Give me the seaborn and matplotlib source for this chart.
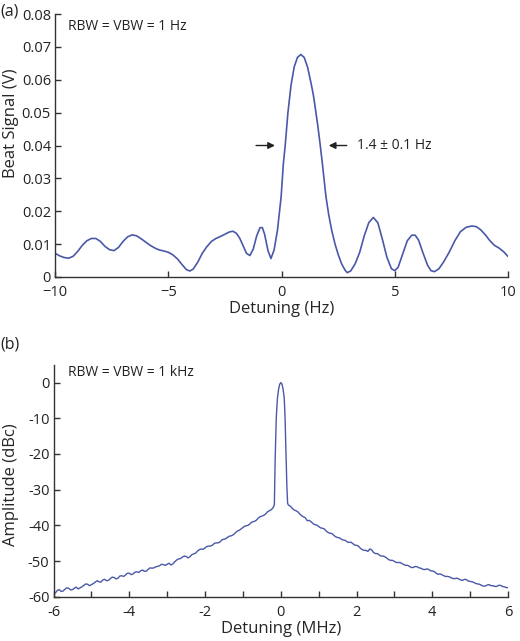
import numpy as np
import pandas as pd
import matplotlib
matplotlib.use("Agg")
import matplotlib.pyplot as plt
import seaborn as sns

# ==========================================
# DATA
# ==========================================

# (a) beat note, detuning in Hz, signal in V
beat_hz = [
    -10.0, -9.8, -9.6, -9.4, -9.2, -9.0, -8.8, -8.6, -8.4, -8.2,
    -8.0, -7.8, -7.6, -7.4, -7.2, -7.0, -6.8, -6.6, -6.4, -6.2,
    -6.0, -5.8, -5.6, -5.4, -5.2, -5.0, -4.8, -4.6, -4.4, -4.2,
    -4.05, -3.9, -3.7, -3.5, -3.3, -3.1, -2.9, -2.7, -2.5, -2.3,
    -2.15, -2.0, -1.85, -1.7, -1.55, -1.4, -1.25, -1.1, -0.95, -0.85,
    -0.75, -0.6, -0.47, -0.33, -0.18, -0.02, 0.08, 0.16, 0.28, 0.42,
    0.56, 0.7, 0.85, 1.0, 1.15, 1.3, 1.4, 1.48, 1.6, 1.7,
    1.8, 1.96, 2.08, 2.21, 2.36, 2.51, 2.65, 2.8, 2.9, 3.05,
    3.25, 3.45, 3.65, 3.85, 4.05, 4.25, 4.45, 4.65, 4.85, 5.0,
    5.15, 5.35, 5.55, 5.75, 5.9, 6.05, 6.25, 6.45, 6.6, 6.75,
    6.95, 7.15, 7.4, 7.65, 7.9, 8.15, 8.4, 8.6, 8.8, 9.0,
    9.2, 9.4, 9.6, 9.8, 10.0,
]
beat_v = [
    0.0072, 0.0064, 0.0059, 0.0057, 0.0063, 0.0078, 0.0096, 0.0110, 0.0117, 0.0117,
    0.0108, 0.0093, 0.0083, 0.0080, 0.0090, 0.0108, 0.0122, 0.0128, 0.0125, 0.0116,
    0.0106, 0.0096, 0.0088, 0.0082, 0.0079, 0.0075, 0.0067, 0.0055, 0.0038, 0.0022,
    0.0018, 0.0024, 0.0045, 0.0072, 0.0092, 0.0108, 0.0117, 0.0123, 0.0130, 0.0137,
    0.0139, 0.0133, 0.0118, 0.0095, 0.0072, 0.0065, 0.0085, 0.0125, 0.0150, 0.0150,
    0.0130, 0.0080, 0.0056, 0.0082, 0.0143, 0.0244, 0.0346, 0.0400, 0.0500, 0.0585,
    0.0640, 0.0668, 0.0677, 0.0668, 0.0638, 0.0590, 0.0555, 0.0518, 0.0460, 0.0405,
    0.0346, 0.0244, 0.0190, 0.0143, 0.0100, 0.0066, 0.0040, 0.0021, 0.0013, 0.0018,
    0.0040, 0.0075, 0.0125, 0.0165, 0.0181, 0.0165, 0.0115, 0.0060, 0.0025, 0.0019,
    0.0030, 0.0070, 0.0110, 0.0127, 0.0127, 0.0112, 0.0072, 0.0035, 0.0019, 0.0016,
    0.0025, 0.0045, 0.0075, 0.0110, 0.0138, 0.0151, 0.0155, 0.0153, 0.0143, 0.0128,
    0.0110, 0.0096, 0.0088, 0.0077, 0.0062,
]

# (b) wide span spectrum, amplitude in dBc
# left wing sampled every 0.05 MHz from -6.0 to -0.2
left_wing_dbc = [
    -58.7, -58.9, -58.2, -58.0, -58.5, -58.4, -57.9, -57.5, -57.6, -58.1,
    -58.0, -57.6, -57.3, -57.8, -57.5, -57.2, -56.8, -56.4, -56.5, -56.9,
    -56.6, -56.3, -55.9, -55.5, -55.8, -55.9, -55.3, -55.1, -55.5, -55.4,
    -54.9, -54.5, -54.6, -55.0, -54.8, -54.2, -54.1, -54.3, -53.9, -53.4,
    -53.4, -53.8, -53.6, -53.1, -53.0, -53.2, -52.7, -52.5, -52.9, -52.8,
    -52.3, -51.9, -52.0, -51.9, -51.6, -51.5, -51.3, -50.9, -51.0, -51.2,
    -50.9, -50.6, -51.1, -50.8, -50.2, -49.7, -49.4, -49.3, -48.9, -48.6,
    -48.7, -49.1, -48.8, -48.2, -48.0, -47.8, -47.2, -46.8, -46.6, -46.7,
    -46.3, -45.9, -45.8, -45.8, -45.5, -45.0, -44.9, -44.9, -44.6, -44.0,
    -43.9, -43.7, -43.3, -43.0, -42.9, -42.6, -42.1, -41.6, -41.4, -41.0,
    -40.6, -40.2, -40.1, -39.9, -39.4, -39.0, -38.9, -38.6, -38.0, -37.6,
    -37.4, -37.2, -36.8, -36.2, -35.9, -35.6, -35.0,
]
# carrier peak
peak_mhz = [-0.17, -0.15, -0.12, -0.09, -0.06, -0.03, 0.0,
            0.03, 0.06, 0.09, 0.11, 0.13, 0.16, 0.18]
peak_dbc = [-34.2, -22.0, -10.0, -4.5, -2.0, -0.5, 0.0,
            -0.4, -1.8, -4.3, -9.0, -17.0, -29.0, -33.8]
# right wing sampled every 0.05 MHz from 0.2 to 6.0
right_wing_dbc = [
    -34.3, -34.6, -35.2, -35.7, -35.9, -36.2, -36.8, -37.3, -37.6, -37.9,
    -38.7, -38.6, -39.0, -39.5, -39.8, -39.9, -40.3, -40.7, -40.8, -41.0,
    -41.6, -42.0, -42.2, -42.3, -42.8, -43.2, -43.4, -43.5, -43.9, -44.1,
    -44.2, -44.6, -44.8, -44.7, -45.1, -45.5, -45.6, -45.8, -46.4, -46.8,
    -47.0, -47.0, -47.3, -46.6, -46.9, -47.6, -47.9, -47.9, -48.3, -48.6,
    -48.6, -48.8, -49.2, -49.6, -49.8, -49.8, -50.1, -50.4, -50.4, -50.4,
    -50.7, -51.0, -51.2, -51.2, -51.5, -51.8, -51.8, -51.5, -51.6, -51.9,
    -52.0, -52.3, -52.4, -52.2, -52.3, -52.7, -52.8, -52.9, -53.4, -53.7,
    -53.6, -53.8, -54.1, -54.3, -54.3, -54.4, -54.7, -54.9, -54.9, -54.8,
    -55.0, -55.3, -55.4, -55.1, -55.2, -55.6, -55.7, -55.8, -56.0, -56.3,
    -56.4, -56.5, -56.8, -57.0, -57.0, -56.7, -56.6, -56.9, -56.9, -57.1,
    -57.1, -56.8, -56.8, -57.1, -57.2, -57.4, -57.5,
]

left_wing_mhz = np.round(np.linspace(-6.0, -0.2, 117), 2)
right_wing_mhz = np.round(np.linspace(0.2, 6.0, 117), 2)
assert len(left_wing_mhz) == len(left_wing_dbc)
assert len(right_wing_mhz) == len(right_wing_dbc)

spec_mhz = np.concatenate([left_wing_mhz, peak_mhz, right_wing_mhz])
spec_dbc = np.concatenate([left_wing_dbc, peak_dbc, right_wing_dbc])

top_xticks = [-10, -5, 0, 5, 10]
top_xticklabels = ["\u221210", "\u22125", "0", "5", "10"]
top_yticks = [0, 0.01, 0.02, 0.03, 0.04, 0.05, 0.06, 0.07, 0.08]
top_yticklabels = ["0", "0.01", "0.02", "0.03", "0.04", "0.05", "0.06", "0.07", "0.08"]

bot_xticks = [-6, -5, -4, -3, -2, -1, 0, 1, 2, 3, 4, 5, 6]
bot_xticklabels = ["-6", "", "-4", "", "-2", "", "0", "", "2", "", "4", "", "6"]
bot_yticks = [-60, -50, -40, -30, -20, -10, 0]
bot_yticklabels = ["-60", "-50", "-40", "-30", "-20", "-10", "0"]

# ==========================================
# STYLE
# ==========================================

sns.set_style("ticks")
plt.rcParams['font.family'] = ['Open Sans', 'DejaVu Sans']

line_color = "#4a58a8"
axis_color = "#333333"
text_color = "#222222"

fig = plt.figure(figsize=(5.2, 6.41), dpi=100)

ax1 = fig.add_axes([0.106, 0.568, 0.871, 0.410])
ax2 = fig.add_axes([0.103, 0.069, 0.874, 0.362])

# ==========================================
# PANEL (a)
# ==========================================

df_a = pd.DataFrame({"hz": beat_hz, "v": beat_v})
sns.lineplot(data=df_a, x="hz", y="v", ax=ax1, color=line_color,
             linewidth=1.2, sort=False)

ax1.set_xlim(-10, 10)
ax1.set_ylim(0, 0.08)
ax1.set_xticks(top_xticks)
ax1.set_xticklabels(top_xticklabels)
ax1.set_yticks(top_yticks)
ax1.set_yticklabels(top_yticklabels)
ax1.set_xlabel("Detuning (Hz)", fontsize=12)
ax1.set_ylabel("Beat Signal (V)", fontsize=12, va="center")
ax1.xaxis.set_label_coords(0.5, -0.092)
ax1.yaxis.set_label_coords(-0.097, 0.585)

ax1.annotate("", xy=(-0.17, 0.04), xytext=(-1.25, 0.04),
             arrowprops=dict(arrowstyle="-|>", color=text_color, lw=1.0,
                             mutation_scale=10))
ax1.annotate("", xy=(1.96, 0.04), xytext=(3.0, 0.04),
             arrowprops=dict(arrowstyle="-|>", color=text_color, lw=1.0,
                             mutation_scale=10))
ax1.text(3.35, 0.04, "1.4 \u00b1 0.1 Hz", fontsize=10, va="center",
         ha="left", color=text_color)
ax1.text(-9.45, 0.0762, "RBW = VBW = 1 Hz", fontsize=10, va="center",
         ha="left", color=text_color)

# ==========================================
# PANEL (b)
# ==========================================

df_b = pd.DataFrame({"mhz": spec_mhz, "dbc": spec_dbc})
sns.lineplot(data=df_b, x="mhz", y="dbc", ax=ax2, color=line_color,
             linewidth=1.0, sort=False)

ax2.set_xlim(-6, 6)
ax2.set_ylim(-60, 5)
ax2.set_xticks(bot_xticks)
ax2.set_xticklabels(bot_xticklabels)
ax2.set_yticks(bot_yticks)
ax2.set_yticklabels(bot_yticklabels)
ax2.set_xlabel("Detuning (MHz)", fontsize=12)
ax2.set_ylabel("Amplitude (dBc)", fontsize=12, va="center")
ax2.xaxis.set_label_coords(0.5, -0.103)
ax2.yaxis.set_label_coords(-0.093, 0.483)
ax2.text(-5.62, 2.8, "RBW = VBW = 1 kHz", fontsize=10, va="center",
         ha="left", color=text_color)

# ==========================================
# COMMON AXIS LOOK
# ==========================================

for ax in [ax1, ax2]:
    sns.despine(ax=ax)
    for side in ["left", "bottom"]:
        ax.spines[side].set_color(axis_color)
        ax.spines[side].set_linewidth(1.0)
    ax.tick_params(direction="in", length=4, width=1.0, colors=axis_color,
                   labelcolor=text_color, labelsize=10.5)
    ax.tick_params(axis="y", pad=3)

ax1.tick_params(axis="x", pad=6)
ax2.tick_params(axis="x", pad=6)

fig.text(0.0, 0.982, "(a)", fontsize=11.5, va="center", ha="left",
         color=text_color)
fig.text(0.0, 0.462, "(b)", fontsize=11.5, va="center", ha="left",
         color=text_color)

plt.savefig("out.png", dpi=100)
